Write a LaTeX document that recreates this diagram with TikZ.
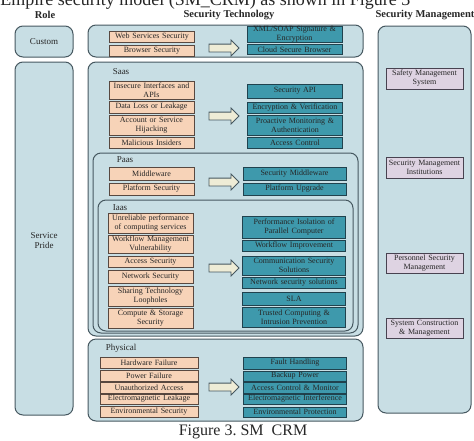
\documentclass[tikz,border=0pt]{standalone}
\usepackage{fontspec}
\setmainfont{Liberation Serif}
\usepackage{tikz}
\usetikzlibrary{shapes.arrows}
\definecolor{panelblue}{RGB}{200,222,228}
\definecolor{paneledge}{RGB}{70,88,96}
\definecolor{riskpeach}{RGB}{247,211,184}
\definecolor{riskedge}{RGB}{88,72,64}
\definecolor{cureteal}{RGB}{62,153,172}
\definecolor{cureedge}{RGB}{32,66,78}
\definecolor{mgmtlilac}{RGB}{222,211,226}
\definecolor{mgmtedge}{RGB}{72,66,80}
\definecolor{arrowcream}{RGB}{238,236,214}

\begin{document}
\begin{tikzpicture}[x=1pt,y=-1pt,semithick,text=black!85,
                    font=\fontsize{8}{9}\selectfont]
  \tikzstyle{panel}=[draw=paneledge,fill=panelblue,rounded corners=8pt,line width=1pt]
  \tikzstyle{risk}=[draw=riskedge,fill=riskpeach,line width=0.8pt,align=center,
                    inner sep=0pt,minimum width=85pt,text width=83pt]
  \tikzstyle{cure}=[draw=cureedge,fill=cureteal,line width=0.8pt,align=center,
                    inner sep=0pt,minimum width=103pt,text width=101pt]
  \tikzstyle{mgmt}=[draw=mgmtedge,fill=mgmtlilac,line width=0.8pt,align=center,
                    inner sep=0pt,minimum width=77pt,text width=75pt]
  \tikzstyle{slim}=[minimum width=95pt,text width=93pt]
  \tikzstyle{wide}=[minimum width=98pt,text width=96pt]
  \tikzstyle{goes}=[single arrow,draw=paneledge,fill=arrowcream,line width=0.8pt,
                    inner xsep=0pt,inner ysep=3.5pt,single arrow head extend=4pt,
                    minimum height=30pt]
  \tikzstyle{head}=[font=\fontsize{10.5}{12}\selectfont\bfseries]
  \tikzstyle{tier}=[font=\fontsize{9}{10}\selectfont]

  \useasboundingbox (0,0) rectangle (474,440);
  \clip (0,0) rectangle (474,440);

  % leftover line of the page above the figure
  \node[anchor=base west,inner sep=0pt,font=\fontsize{18}{20}\selectfont] (lead) at (0,5)
       {Empire security model (SM\_CRM) as shown in Figure 3};

  % column heads
  \node[head] (role) at (45,15) {Role};
  \node[head] (tech) at (229,15) {Security Technology};
  \node[head] (mgmt) at (425,15) {Security Management};

  % panels
  \draw[panel] (15,26) rectangle (73,57);
  \draw[panel] (15,62) rectangle (73,415);
  \draw[panel] (88,25) rectangle (363,57);
  \draw[panel] (88,62) rectangle (363,336);
  \draw[panel] (93,153) rectangle (358,333);
  \draw[panel] (98,200) rectangle (353,331);
  \draw[panel] (88,339) rectangle (363,421);
  \draw[panel] (378,26) rectangle (471,413);

  \node[tier] (custom) at (44,42) {Custom};
  \node[tier,align=center] (pride) at (44,241) {Service\\Pride};

  \node[tier] (saas) at (121,72) {Saas};
  \node[tier] (paas) at (125,160) {Paas};
  \node[tier] (iaas) at (120,208) {Iaas};
  \node[tier] (phys) at (121,348) {Physical};

  % custom
  \node[risk,minimum height=11pt] (webS) at (152,37) {Web Services Security};
  \node[risk,minimum height=11pt] (brwS) at (152,50.5) {Browser Security};
  \node[goes] (toCust) at (222,48) {};
  \node[cure,slim,minimum height=15pt] (xmlS) at (294.5,34.5) {XML/SOAP Signature \&\\Encryption};
  \node[cure,slim,minimum height=10pt] (cldB) at (294.5,49.5) {Cloud Secure Browser};

  % saas
  \node[risk,minimum height=18pt] (api) at (151.5,90) {Insecure Interfaces and\\APIs};
  \node[risk,minimum height=12pt] (loss) at (151.5,107) {Data Loss or Leakage};
  \node[risk,minimum height=20pt] (hijk) at (151.5,125) {Account or Service\\Hijacking};
  \node[risk,minimum height=11pt] (insd) at (151.5,142.5) {Malicious Insiders};
  \node[goes] (toSaas) at (222,116) {};
  \node[cure,slim,minimum height=14pt] (secA) at (295,91) {Security API};
  \node[cure,slim,minimum height=11pt] (encV) at (295,107.5) {Encryption \& Verification};
  \node[cure,slim,minimum height=20pt] (proM) at (295,125) {Proactive Monitoring \&\\Authentication};
  \node[cure,slim,minimum height=11pt] (accC) at (295,142.5) {Access Control};

  % paas
  \node[risk,minimum height=13pt] (midw) at (151.5,173.5) {Middleware};
  \node[risk,minimum height=12pt] (pltS) at (151.5,189) {Platform Security};
  \node[goes] (toPaas) at (222,182) {};
  \node[cure,minimum height=13pt] (secM) at (294.5,173.5) {Security Middleware};
  \node[cure,minimum height=12pt] (pltU) at (294.5,189) {Platform Upgrade};

  % iaas
  \node[risk,minimum height=20pt] (perf) at (150.5,223) {Unreliable performance\\of computing services};
  \node[risk,minimum height=18pt] (wfmV) at (150.5,244) {Workflow Management\\Vulnerability};
  \node[risk,minimum height=11pt] (accS) at (150.5,261.5) {Access Security};
  \node[risk,minimum height=13pt] (netS) at (150.5,276.5) {Network Security};
  \node[risk,minimum height=20pt] (shrT) at (150.5,296) {Sharing Technology\\Loopholes};
  \node[risk,minimum height=20pt] (cmpS) at (150.5,318) {Compute \& Storage\\Security};
  \node[goes] (toIaas) at (222,268) {};
  \node[cure,minimum height=22pt] (isoP) at (294,227) {Performance Isolation of\\Parallel Computer};
  \node[cure,minimum height=11pt] (wfI) at (294,245.5) {Workflow Improvement};
  \node[cure,minimum height=19pt] (comS) at (294,265.5) {Communication Security\\Solutions};
  \node[cure,minimum height=11pt] (netSol) at (294,282.5) {Network security solutions};
  \node[cure,minimum height=13pt] (sla) at (294,298.5) {SLA};
  \node[cure,minimum height=20pt] (trst) at (294,317) {Trusted Computing \&\\Intrusion Prevention};

  % physical
  \node[risk,wide,minimum height=11pt] (hwF) at (149,362.5) {Hardware Failure};
  \node[risk,wide,minimum height=11pt] (pwF) at (149,375.5) {Power Failure};
  \node[risk,wide,minimum height=11pt] (unA) at (149,387.5) {Unauthorized Access};
  \node[risk,wide,minimum height=10pt] (emL) at (149,399) {Electromagnetic Leakage};
  \node[risk,wide,minimum height=11pt] (envS) at (149,411.5) {Environmental Security};
  \node[goes] (toPhys) at (222,387) {};
  \node[cure,minimum height=12pt] (fltH) at (295,363) {Fault Handling};
  \node[cure,minimum height=10pt] (bkP) at (295,376) {Backup Power};
  \node[cure,minimum height=11pt] (accM) at (295,387.5) {Access Control \& Monitor};
  \node[cure,minimum height=10pt] (emI) at (295,399) {Electromagnetic Interference};
  \node[cure,minimum height=10pt] (envP) at (295,412) {Environmental Protection};

  % management
  \node[mgmt,minimum height=21pt] (smS) at (424.5,78.5) {Safety Management\\System};
  \node[mgmt,minimum height=21pt] (smI) at (424.5,167.5) {Security Management\\Institutions};
  \node[mgmt,minimum height=20pt] (psM) at (424.5,263) {Personnel Security\\Management};
  \node[mgmt,minimum height=20pt] (scM) at (424.5,328) {System Construction\\\& Management};

  \node[anchor=base,font=\fontsize{16}{18}\selectfont] (cap) at (243,435.5) {Figure 3.\ SM\enspace CRM};
\end{tikzpicture}
\end{document}
